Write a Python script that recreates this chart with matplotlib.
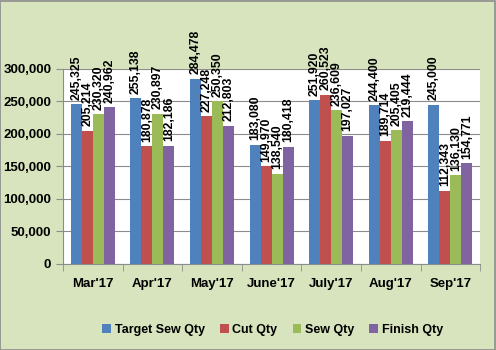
import numpy as np
import matplotlib.pyplot as plt
from matplotlib.patches import Rectangle
from matplotlib.ticker import FuncFormatter

months = ["Mar'17", "Apr'17", "May'17", "June'17", "July'17", "Aug'17", "Sep'17"]
target_sew = [245325, 255138, 284478, 183080, 251920, 244400, 245000]
cut_qty = [205214, 180878, 227248, 149970, 260523, 189714, 112343]
sew_qty = [230320, 230897, 250350, 138540, 236609, 205405, 136130]
finish_qty = [240962, 182186, 212803, 180418, 197027, 219444, 154771]

series = [("Target Sew Qty", target_sew, "#4F81BD"),
          ("Cut Qty", cut_qty, "#C0504D"),
          ("Sew Qty", sew_qty, "#9BBB59"),
          ("Finish Qty", finish_qty, "#8064A2")]

plt.rcParams['font.family'] = ['Liberation Sans', 'DejaVu Sans']
bg = "#D7E4BD"

fig = plt.figure(figsize=(4.96, 3.5), dpi=100, facecolor=bg)
ax = fig.add_axes([0.127, 0.246, 0.841, 0.557])
ax.set_facecolor("white")

x = np.arange(len(months))
w = 0.185
for i, (name, vals, col) in enumerate(series):
    pos = x + (i - 1.5) * w
    ax.bar(pos, vals, w, color=col, label=name, zorder=3)
    for px, v in zip(pos, vals):
        ax.text(px, v + 7000, f"{v:,}", rotation=90, ha="center", va="bottom",
                fontsize=8.8, fontweight="bold", zorder=4, clip_on=False)

ax.set_ylim(0, 300000)
ax.set_xlim(-0.5, len(months) - 0.5)
ax.set_yticks(np.arange(0, 300001, 50000))
ax.yaxis.set_major_formatter(FuncFormatter(lambda v, p: f"{int(v):,}"))
ax.yaxis.grid(True, color="#8C8C8C", linewidth=0.8, zorder=0)

ax.set_xticks(x)
ax.set_xticklabels(months)
ax.set_xticks(np.arange(-0.5, len(months), 1), minor=True)
ax.tick_params(axis="x", which="major", length=0, pad=10)
ax.tick_params(axis="x", which="minor", length=5, color="#8C8C8C")
ax.tick_params(axis="y", length=5, color="#8C8C8C")
for lab in ax.get_xticklabels() + ax.get_yticklabels():
    lab.set_fontweight("bold")
    lab.set_fontsize(9.5)

for s in ["top", "right"]:
    ax.spines[s].set_visible(False)
for s in ["left", "bottom"]:
    ax.spines[s].set_color("#8C8C8C")

fig.legend(loc="center", bbox_to_anchor=(0.55, 0.057), ncol=4, frameon=False,
           prop={"weight": "bold", "size": 9}, handlelength=0.7, handleheight=0.7,
           handletextpad=0.3, columnspacing=1.2)

fig.patches.append(Rectangle((0.001, 0.001), 0.997, 0.996, transform=fig.transFigure,
                             fill=False, edgecolor="#8C8C8C", linewidth=1.2))

fig.savefig("out.png", dpi=100, facecolor=bg)
